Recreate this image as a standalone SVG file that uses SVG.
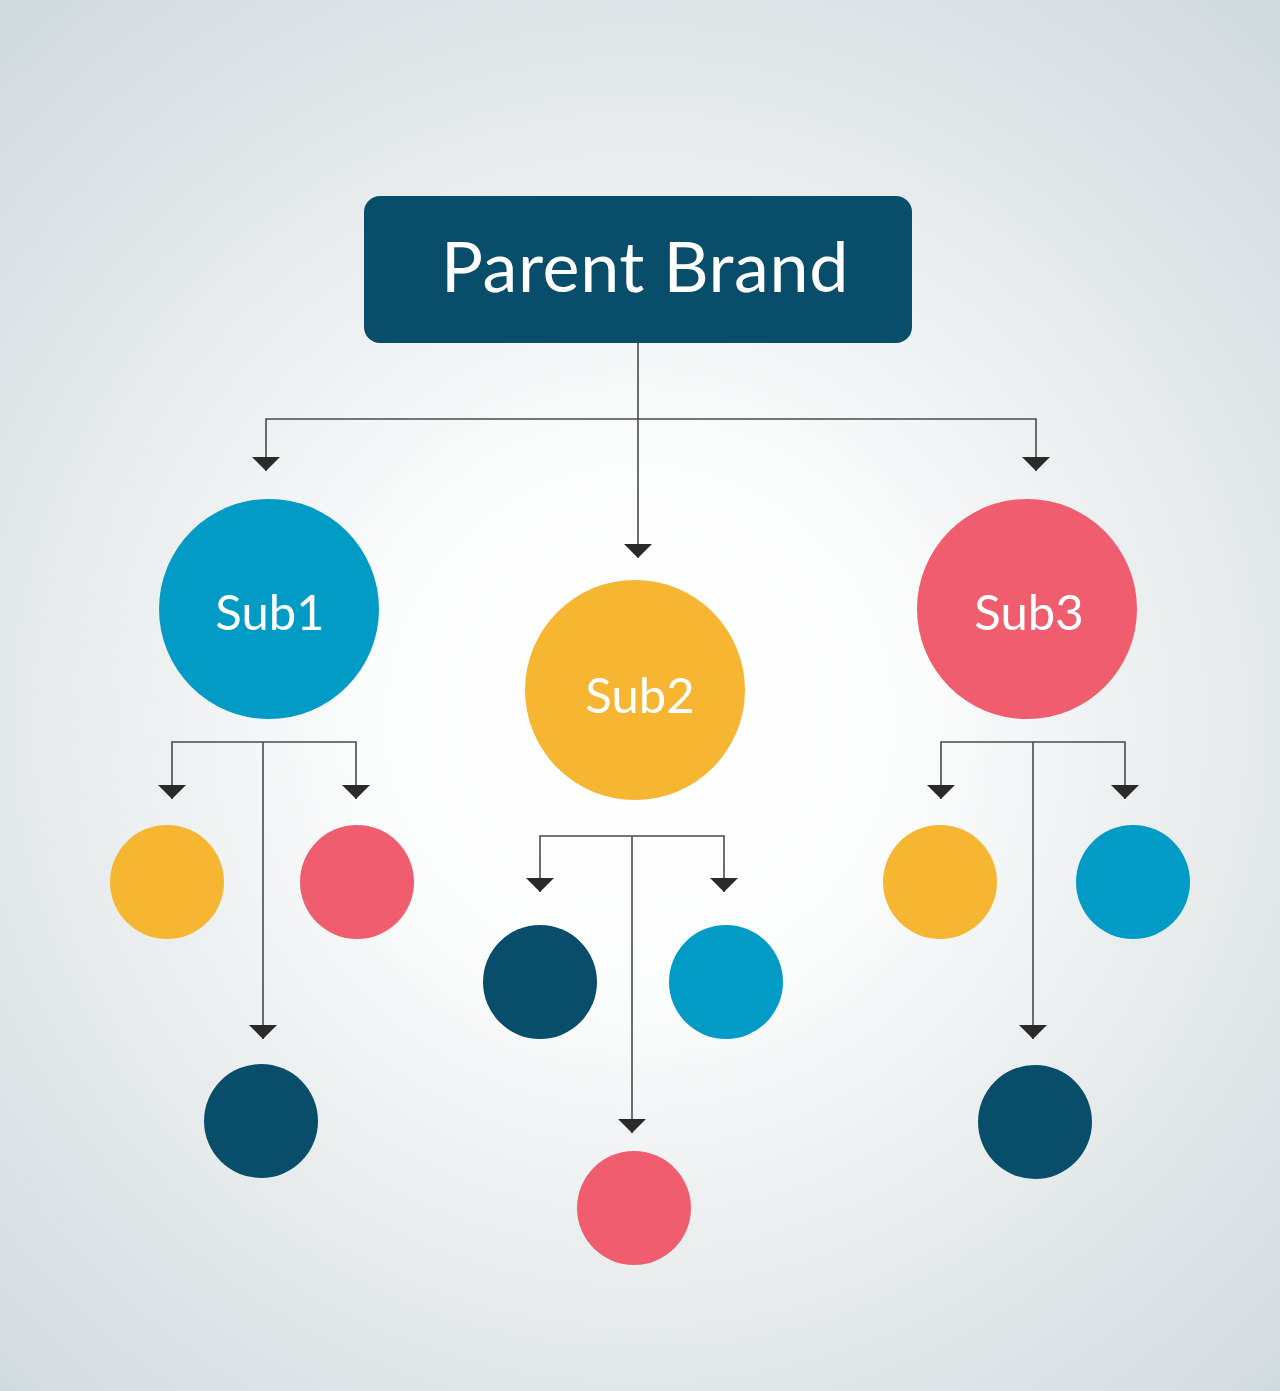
<svg xmlns="http://www.w3.org/2000/svg" width="1280" height="1391" viewBox="0 0 1280 1391">
  <defs>
    <radialGradient id="bg" cx="640" cy="720" r="920" gradientUnits="userSpaceOnUse">
      <stop offset="0" stop-color="#FFFFFF"/>
      <stop offset="0.3" stop-color="#FBFCFC"/>
      <stop offset="0.62" stop-color="#E8ECED"/>
      <stop offset="1" stop-color="#D2DBDF"/>
    </radialGradient>
    <marker id="arrow" viewBox="0 0 14 28" refX="14" refY="14" markerWidth="14" markerHeight="28" markerUnits="userSpaceOnUse" orient="auto">
      <path d="M0,0 L14,14 L0,28 Z" fill="#2A2A2A"/>
    </marker>
    <style>
      .conn { fill: none; stroke: #4A4A4A; stroke-width: 1.6; marker-end: url(#arrow); }
      .navy { fill: #084D69; }
      .blue { fill: #019BC6; }
      .yellow { fill: #F7B632; }
      .pink { fill: #EF5D6E; }
      .label { font-family: Lato, "Open Sans", "Liberation Sans", sans-serif; fill: #FFFFFF; text-anchor: middle; }
    </style>
  </defs>

  <rect x="0" y="0" width="1280" height="1391" fill="url(#bg)"/>

  <g id="connectors">
    <path class="conn" d="M638,343 V558"/>
    <path class="conn" d="M638,419 H266 V471"/>
    <path class="conn" d="M638,419 H1036 V471"/>
    <path class="conn" d="M263,742 V1039"/>
    <path class="conn" d="M263,742 H172 V799"/>
    <path class="conn" d="M263,742 H356 V799"/>
    <path class="conn" d="M632,836 V1133"/>
    <path class="conn" d="M632,836 H540 V892"/>
    <path class="conn" d="M632,836 H724 V892"/>
    <path class="conn" d="M1033,742 V1039"/>
    <path class="conn" d="M1033,742 H941 V799"/>
    <path class="conn" d="M1033,742 H1125 V799"/>
  </g>

  <g id="parent">
    <rect class="navy" x="364" y="196" width="548" height="147" rx="16"/>
    <text class="label" x="645" y="292" font-size="70" letter-spacing="0.6">Parent Brand</text>
  </g>

  <g id="sub1">
    <circle class="blue" cx="269" cy="609" r="110"/>
    <text class="label" x="270" y="630" font-size="49">Sub1</text>
  </g>
  <g id="sub2">
    <circle class="yellow" cx="635" cy="690" r="110"/>
    <text class="label" x="640" y="713" font-size="49">Sub2</text>
  </g>
  <g id="sub3">
    <circle class="pink" cx="1027" cy="609" r="110"/>
    <text class="label" x="1029" y="630" font-size="49">Sub3</text>
  </g>

  <g id="sub1-a"><circle class="yellow" cx="167" cy="882" r="57"/></g>
  <g id="sub1-b"><circle class="pink" cx="357" cy="882" r="57"/></g>
  <g id="sub1-c"><circle class="navy" cx="261" cy="1121" r="57"/></g>

  <g id="sub2-a"><circle class="navy" cx="540" cy="982" r="57"/></g>
  <g id="sub2-b"><circle class="blue" cx="726" cy="982" r="57"/></g>
  <g id="sub2-c"><circle class="pink" cx="634" cy="1208" r="57"/></g>

  <g id="sub3-a"><circle class="yellow" cx="940" cy="882" r="57"/></g>
  <g id="sub3-b"><circle class="blue" cx="1133" cy="882" r="57"/></g>
  <g id="sub3-c"><circle class="navy" cx="1035" cy="1122" r="57"/></g>
</svg>
